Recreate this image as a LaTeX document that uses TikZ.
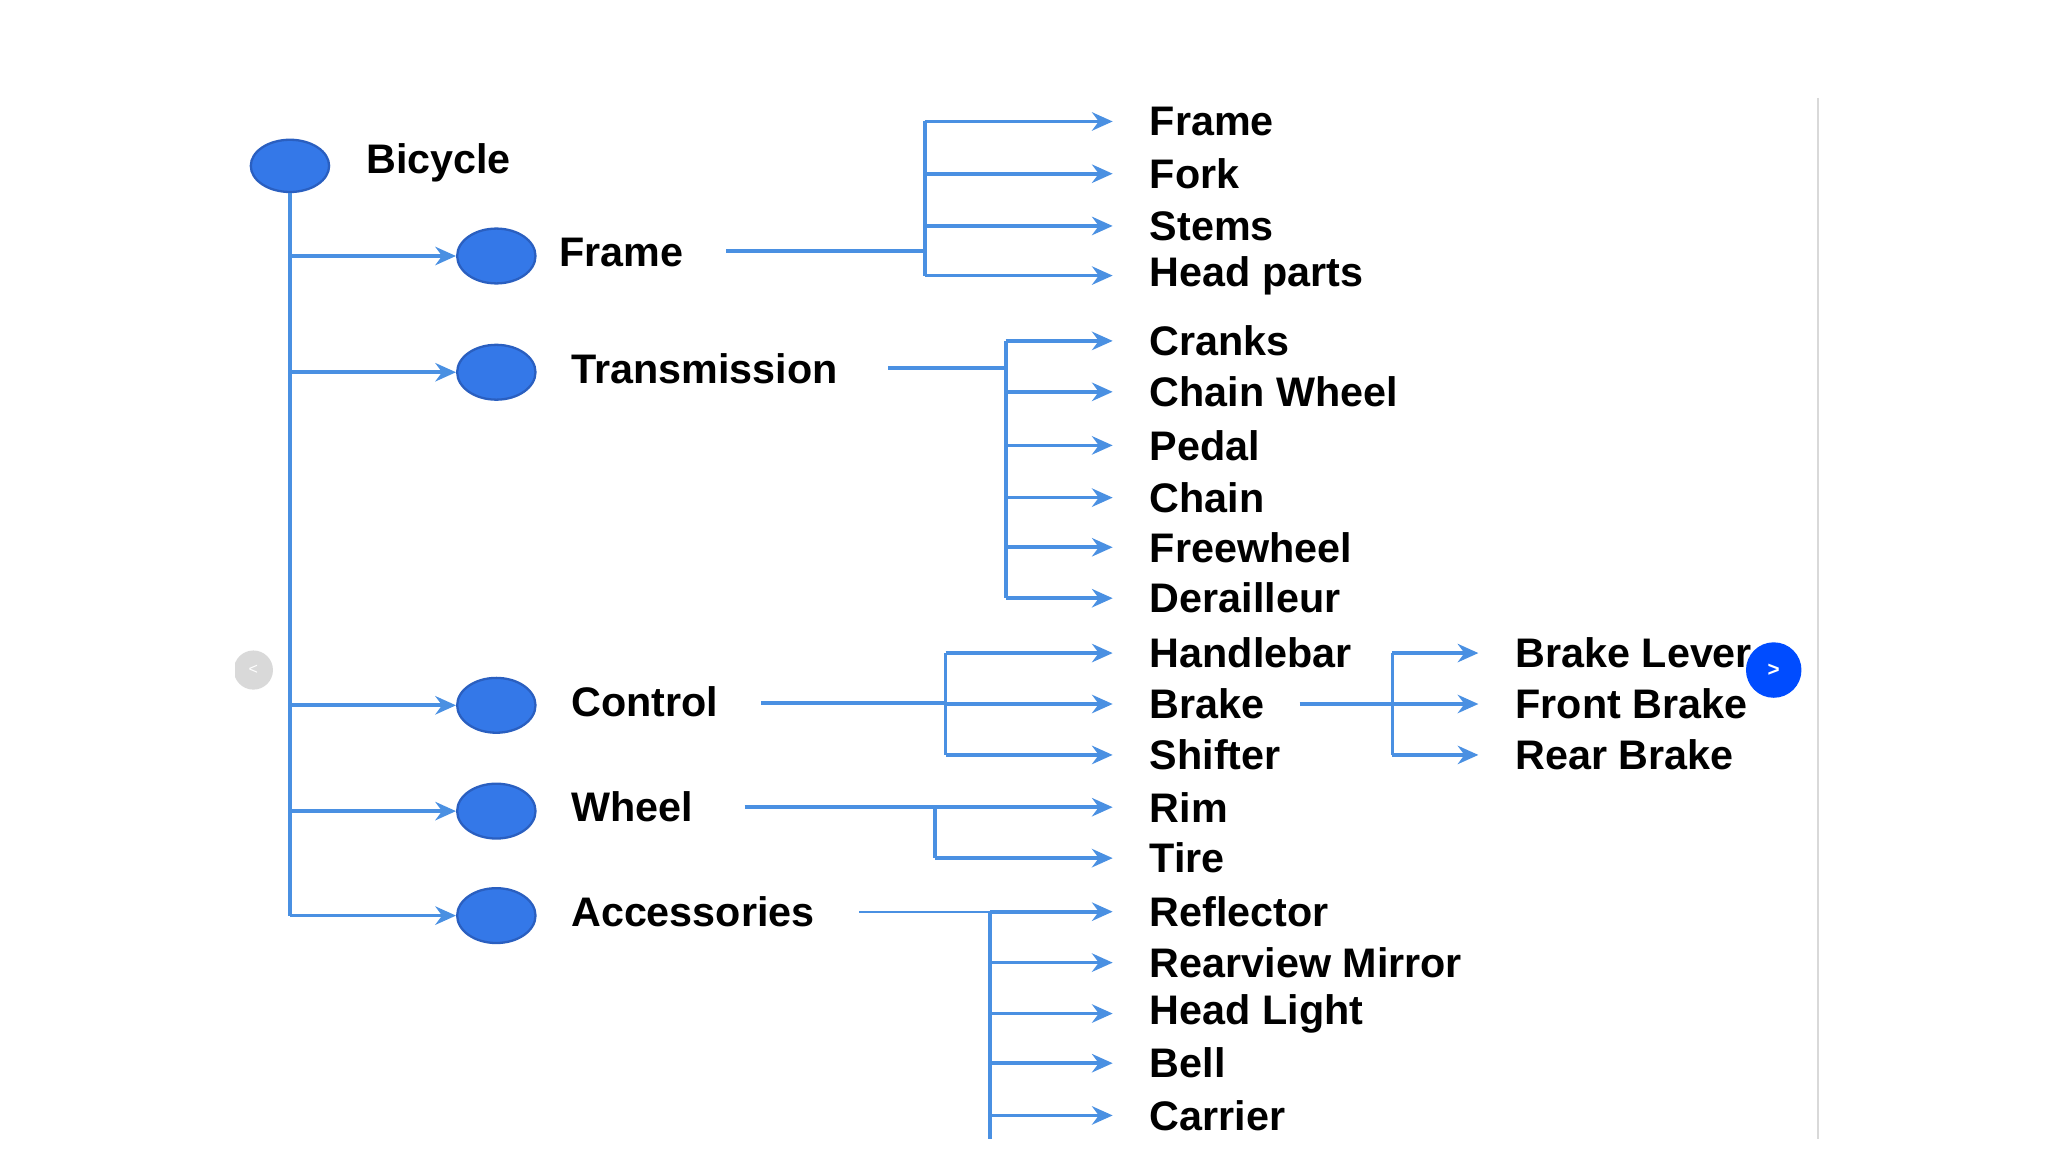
\documentclass[tikz,border=0pt]{standalone}
\usepackage{fontspec}
\setmainfont{Liberation Sans}
\usetikzlibrary{arrows.meta,shapes.geometric}
\definecolor{lb}{HTML}{4A90E2}
\definecolor{cb}{HTML}{3478E8}
\definecolor{cbd}{HTML}{2A5FC0}
\begin{document}
\begin{tikzpicture}[x=0.02cm,y=-0.02cm,
  dot/.style={ellipse,draw=cbd,line width=1pt,fill=cb,minimum width=1.2cm,minimum height=0.84cm},
  ln/.style={draw=lb,line width=1.6pt},
  ar/.style={ln,-{Stealth[length=9pt,width=8pt]}},
  lab/.style={anchor=west,inner sep=0pt,font=\fontsize{18}{21}\selectfont\bfseries},
  ]
\useasboundingbox (0,0) rectangle (1568,882);
\draw[gray!30,line width=0.8pt] (1392,75) -- (1392,872);
% root
\node[dot,minimum height=0.8cm] (root) at (222,127) {};
\node[lab] (tRoot) at (280,125) {Bicycle};
\coordinate (vb) at (222,701);
\draw[ln] (root.south) -- (vb);
\foreach \n/\y/\t/\tx in {cF/196/Frame/428, cT/285/Transmission/437, cC/540/Control/437, cW/621/Wheel/437, cA/701/Accessories/437}{
  \node[dot] (\n) at (380,\y) {};
  \coordinate (\n b) at (222,\y);
  \draw[ar] (\n b) -- (\n.west);
  \node[lab] (\n t) at (\tx,\y-3) {\t};
}
% Frame group
\draw[ln] (556,192) -- (708,192);
\draw[ln] (708,93) -- (708,211);
\foreach \n/\y/\t in {f1/93/Frame,f2/133/Fork,f3/173/Stems,f4/211/Head parts}{
  \coordinate (\n s) at (708,\y);
  \node[lab] (\n) at (880,\y) {\t};
  \draw[ar] (\n s) -- ([xshift=-16]\n.west);
}
% Transmission group
\draw[ln] (680,282) -- (770,282);
\draw[ln] (770,261) -- (770,458);
\foreach \n/\y/\t in {t1/261/Cranks,t2/300/Chain Wheel,t3/341/Pedal,t4/381/Chain,t5/419/Freewheel,t6/458/Derailleur}{
  \coordinate (\n s) at (770,\y);
  \node[lab] (\n) at (880,\y) {\t};
  \draw[ar] (\n s) -- ([xshift=-16]\n.west);
}
% Control group
\draw[ln] (583,538) -- (724,538);
\draw[ln] (724,500) -- (724,578);
\foreach \n/\y/\t in {c1/500/Handlebar,c2/539/Brake,c3/578/Shifter}{
  \coordinate (\n s) at (724,\y);
  \node[lab] (\n) at (880,\y) {\t};
  \draw[ar] (\n s) -- ([xshift=-16]\n.west);
}
\draw[ln] (995,539) -- (1066,539);
\draw[ln] (1066,500) -- (1066,578);
\foreach \n/\y/\t in {b1/500/Brake Lever,b2/539/Front Brake,b3/578/Rear Brake}{
  \coordinate (\n s) at (1066,\y);
  \node[lab] (\n) at (1160,\y) {\t};
  \draw[ar] (\n s) -- ([xshift=-16]\n.west);
}
% Wheel group
\draw[ln] (570,618) -- (716,618);
\draw[ln] (716,618) -- (716,657);
\foreach \n/\y/\t in {w1/618/Rim,w2/657/Tire}{
  \coordinate (\n s) at (716,\y);
  \node[lab] (\n) at (880,\y) {\t};
  \draw[ar] (\n s) -- ([xshift=-16]\n.west);
}
% Accessories group
\draw[ln,line width=1pt] (658,698) -- (758,698);
\draw[ln] (758,698) -- (758,872);
\foreach \n/\y/\t in {a1/698/Reflector,a2/737/Rearview Mirror,a3/776/Head Light,a4/814/Bell,a5/854/Carrier}{
  \coordinate (\n s) at (758,\y);
  \node[lab] (\n) at (880,\y) {\t};
  \draw[ar] (\n s) -- ([xshift=-16]\n.west);
}
% UI buttons
\begin{scope}
\clip (180,490) rectangle (215,540);
\node[circle,fill=gray!30,minimum size=0.6cm,inner sep=0pt,text=white,font=\scriptsize] (lbtn) at (194,513) {<};
\end{scope}
\node[circle,fill=blue!70!cyan,minimum size=0.85cm,inner sep=0pt,text=white,font=\small\bfseries] (rbtn) at (1358,513) {>};
\end{tikzpicture}
\end{document}
